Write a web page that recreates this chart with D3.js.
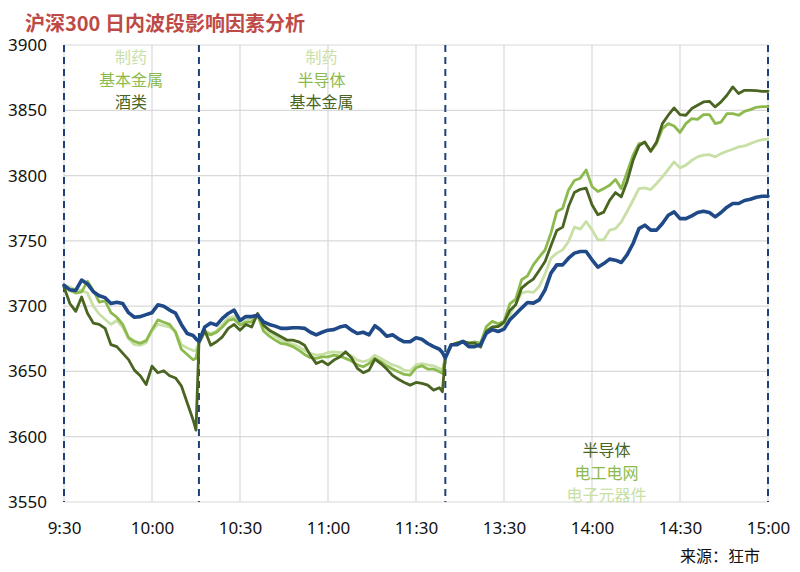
<!DOCTYPE html>
<html><head><meta charset="utf-8">
<script src="https://cdn.jsdelivr.net/npm/d3@7"></script>
<style>
html,body{margin:0;padding:0;background:#fff;}
svg{display:block;font-family:"Noto Sans CJK SC","Noto Sans",sans-serif;}
</style></head>
<body><svg id="c" width="800" height="572"></svg>
<script>
const title = "沪深300 日内波段影响因素分析";
const source = "来源：狂市";
const tickLabels = ["9:30","10:00","10:30","11:00","11:30","13:30","14:00","14:30","15:00"];
const tickMinutes = [0,30,60,90,120,150,180,210,240];
const yTicks = [3550,3600,3650,3700,3750,3800,3850,3900];
const breakMinutes = [0,46,130,240];

// trading minutes since 9:30 (lunch break removed)
const minutes = [0,2,4,6,8,10,12,14,16,18,20,22,24,26,28,30,32,34,36,38,40,42,44,45,
 46,48,50,52,54,56,58,60,62,64,66,68,70,72,74,76,78,80,82,84,86,88,90,92,94,96,98,100,102,104,106,108,110,112,114,116,118,120,122,124,126,128,129,
 130,132,134,136,138,140,142,144,146,148,150,152,154,156,158,160,162,164,166,168,170,172,174,176,178,180,182,184,186,188,190,192,194,196,198,200,202,204,206,208,210,212,214,216,218,220,222,224,226,228,230,232,234,236,238,240];

const hs300 = [3716,3712.5,3712,3720,3717,3711,3708,3706.5,3702,3703,3702,3695,3691.5,3692,3693.5,3695,3701,3700,3697,3694.6,3686,3679,3677.5,3675,
 3673,3684,3687,3685.5,3690.6,3694.4,3697,3689,3692,3692,3693,3688,3686,3684.7,3683,3683,3683.4,3683.4,3683,3680,3678,3680,3681.6,3682,3684,3685,3681.6,3679,3680,3678,3685,3681.6,3677,3678,3675,3672.7,3672.7,3675.8,3674.7,3671.4,3669,3667,3664.5,
 3660.2,3670.4,3670.4,3673,3669,3669,3670.4,3679.3,3682,3680.6,3682.4,3689.5,3694,3698.5,3702.8,3702.3,3704.8,3712.5,3725.3,3731.6,3731.6,3736.7,3740.6,3741.8,3741.8,3735.5,3729.8,3732.6,3736,3735.2,3733.4,3739.5,3748,3759.4,3762,3758.2,3758.2,3763.3,3769.6,3772.2,3767,3767,3769.1,3771.7,3772.7,3771.7,3768.4,3771.7,3775.8,3778.6,3778.6,3780.9,3781.9,3783.4,3784.2,3784.2];

const lightGreen = [3716,3714.6,3712.5,3712,3710,3700,3694,3690,3686,3689,3684,3675,3670.5,3670,3672,3681,3686,3685,3684,3681,3670.5,3668,3666,3666,
 3672,3681,3679,3681,3686,3691,3692,3688,3689,3690,3694,3684,3680,3677,3674,3672,3671,3669,3666,3663.8,3662.5,3663,3664.5,3665,3664.5,3663.8,3662,3658.7,3657.4,3658.7,3662.5,3660,3657.4,3655,3653.6,3651,3650.3,3655,3656,3655,3654.3,3652.3,3651,
 3661,3670,3672,3673,3671.5,3672,3670,3681.4,3684.4,3685.2,3684.4,3693.4,3701.8,3710,3711.2,3710.5,3715,3724.7,3736.7,3740.6,3743.1,3749.5,3760.5,3759,3764.8,3758.4,3750.8,3750.8,3758.2,3759.4,3764.5,3772.7,3781.1,3790,3790.6,3789.3,3793.9,3799,3804.8,3810.5,3805.9,3808,3811.7,3814.3,3815.6,3816,3814.3,3816.8,3818.6,3820.2,3822,3822.7,3824.5,3826.3,3827.6,3827.8];

const midGreen = [3716,3712,3710,3711,3719,3712,3703,3704,3695,3691.5,3686,3676,3673,3671.5,3673.6,3682,3689.5,3687.7,3686,3680,3667,3663,3659,3660,
 3672,3680,3678,3680,3684,3689,3690,3685.5,3687.5,3688,3693,3681,3677,3674,3671.4,3670.7,3669,3666.3,3663,3660.5,3660,3661.2,3661.2,3662.5,3661.7,3660,3658,3655,3653.6,3656,3660,3657.4,3654.3,3651.8,3649.7,3647.7,3647.2,3652.8,3654.3,3651.8,3651.8,3649.7,3648.5,
 3661,3670.4,3671.7,3673,3671.7,3672.7,3671.7,3684.4,3688.3,3686.5,3688.3,3701.8,3705.4,3720.2,3723.2,3731.6,3737.5,3743,3755.9,3772.4,3775,3789,3796.2,3798,3804.3,3791.6,3787.8,3790,3792.6,3797,3790,3802.8,3815.6,3824.5,3825.3,3818.6,3824.5,3836,3839.8,3838,3833,3839.8,3843.6,3843,3846.7,3846.7,3839.8,3841,3847.4,3847.4,3846.2,3849.2,3850.5,3852.3,3852.8,3852.8];

const darkGreen = [3714.6,3702,3696,3707,3694.6,3687,3686,3683,3670.5,3669,3664,3659,3651,3646.7,3640,3654,3649,3650.5,3646.7,3645,3639,3626,3613,3605,
 3672,3681.6,3670,3672.7,3676.5,3683,3686,3681.6,3686,3684,3694.4,3685.5,3681.6,3679,3676.5,3674,3674,3672.7,3670,3662.5,3656,3658,3655,3658.7,3661,3665,3660.5,3652.3,3649,3651,3659.4,3656,3651.8,3647,3644,3641.6,3639.5,3641.6,3640.8,3639.5,3635.7,3637.5,3634.4,
 3661,3670.4,3671.7,3673,3671.7,3671.7,3668.6,3680.6,3684,3684.4,3687.5,3696.7,3701,3713.8,3717.6,3720.7,3727.3,3734.2,3746.2,3758,3760.5,3776.3,3787,3789.5,3790.3,3777.6,3770,3772,3781,3787,3783.7,3795.7,3811.7,3822.7,3825.8,3818.6,3825.8,3839.8,3846.2,3851.8,3846.7,3846.2,3851.3,3853.8,3856.4,3856.9,3852.6,3856.4,3861.5,3867.9,3862.8,3865.3,3865.3,3865,3864.5,3864.5];

const annotations = [
  [["制药","light"],["基本金属","mid"],["酒类","dark"]],
  [["制药","light"],["半导体","mid"],["基本金属","dark"]],
  [["半导体","dark"],["电工电网","mid"],["电子元器件","light"]]
];

const colors = {navy:"#1f4a87", dark:"#4a6421", mid:"#8cba4e", light:"#c8e0a6"};

const svg = d3.select("#c");
const x = d3.scaleLinear().domain([0,240]).range([64,768]);
const y = d3.scaleLinear().domain([3550,3900]).range([502,45]);

// grid
const g = svg.append("g");
g.selectAll("line.h").data(yTicks).enter().append("line")
  .attr("x1",x(0)).attr("x2",x(240)).attr("y1",d=>y(d)).attr("y2",d=>y(d))
  .attr("stroke","#d9d9d9").attr("stroke-width",1.2);
g.selectAll("line.v").data(tickMinutes).enter().append("line")
  .attr("x1",d=>x(d)).attr("x2",d=>x(d)).attr("y1",y(3900)).attr("y2",y(3550))
  .attr("stroke","#d9d9d9").attr("stroke-width",1.2);

// axes
const xAxis = d3.axisBottom(x).tickValues(tickMinutes).tickFormat((d,i)=>tickLabels[i]).tickSize(0).tickPadding(20);
const ax = svg.append("g").attr("transform",`translate(0,${y(3550)})`).call(xAxis);
ax.select(".domain").remove();
ax.selectAll("text").attr("font-size",17).attr("fill","#111").attr("font-family",'"Noto Sans","Noto Sans CJK SC",sans-serif');

const yAxis = d3.axisLeft(y).tickValues(yTicks).tickFormat(d3.format("d")).tickSize(0).tickPadding(17);
const ay = svg.append("g").attr("transform",`translate(${x(0)},0)`).call(yAxis);
ay.select(".domain").remove();
ay.selectAll("text").attr("font-size",17).attr("fill","#111").attr("font-family",'"Noto Sans","Noto Sans CJK SC",sans-serif');

// dashed separators
svg.selectAll("line.sep").data(breakMinutes).enter().append("line")
  .attr("x1",d=>x(d)).attr("x2",d=>x(d)).attr("y1",y(3900)).attr("y2",y(3550))
  .attr("stroke","#1f3f78").attr("stroke-width",2).attr("stroke-dasharray","7,5");

// lines
const series = [
  {vals:lightGreen, c:colors.light, w:2.8},
  {vals:midGreen, c:colors.mid, w:2.8},
  {vals:darkGreen, c:colors.dark, w:2.8},
  {vals:hs300, c:colors.navy, w:3.6}
];
const line = d3.line().x((d,i)=>x(minutes[i])).y(d=>y(d));
series.forEach(s=>{
  svg.append("path").datum(s.vals).attr("d",line)
    .attr("fill","none").attr("stroke",s.c).attr("stroke-width",s.w)
    .attr("stroke-linejoin","round").attr("stroke-linecap","round");
});

// annotations
const annX = [131, 321.5, 606.5];
const annTopY = [56, 56, 449];
annotations.forEach((a,k)=>{
  a.forEach((l,j)=>{
    svg.append("text").attr("x",annX[k]).attr("y",annTopY[k]+j*22.5)
      .attr("text-anchor","middle").attr("dominant-baseline","central")
      .attr("font-size",16).attr("fill",colors[l[1]]).text(l[0]);
  });
});

// title
svg.append("text").attr("x",25).attr("y",22).attr("dominant-baseline","central")
  .attr("font-size",20).attr("font-weight","bold").attr("fill","#be4a47").text(title);

// source
svg.append("text").attr("x",720).attr("y",555).attr("text-anchor","middle").attr("dominant-baseline","central")
  .attr("font-size",16).attr("fill","#111").text(source);
</script></body></html>
